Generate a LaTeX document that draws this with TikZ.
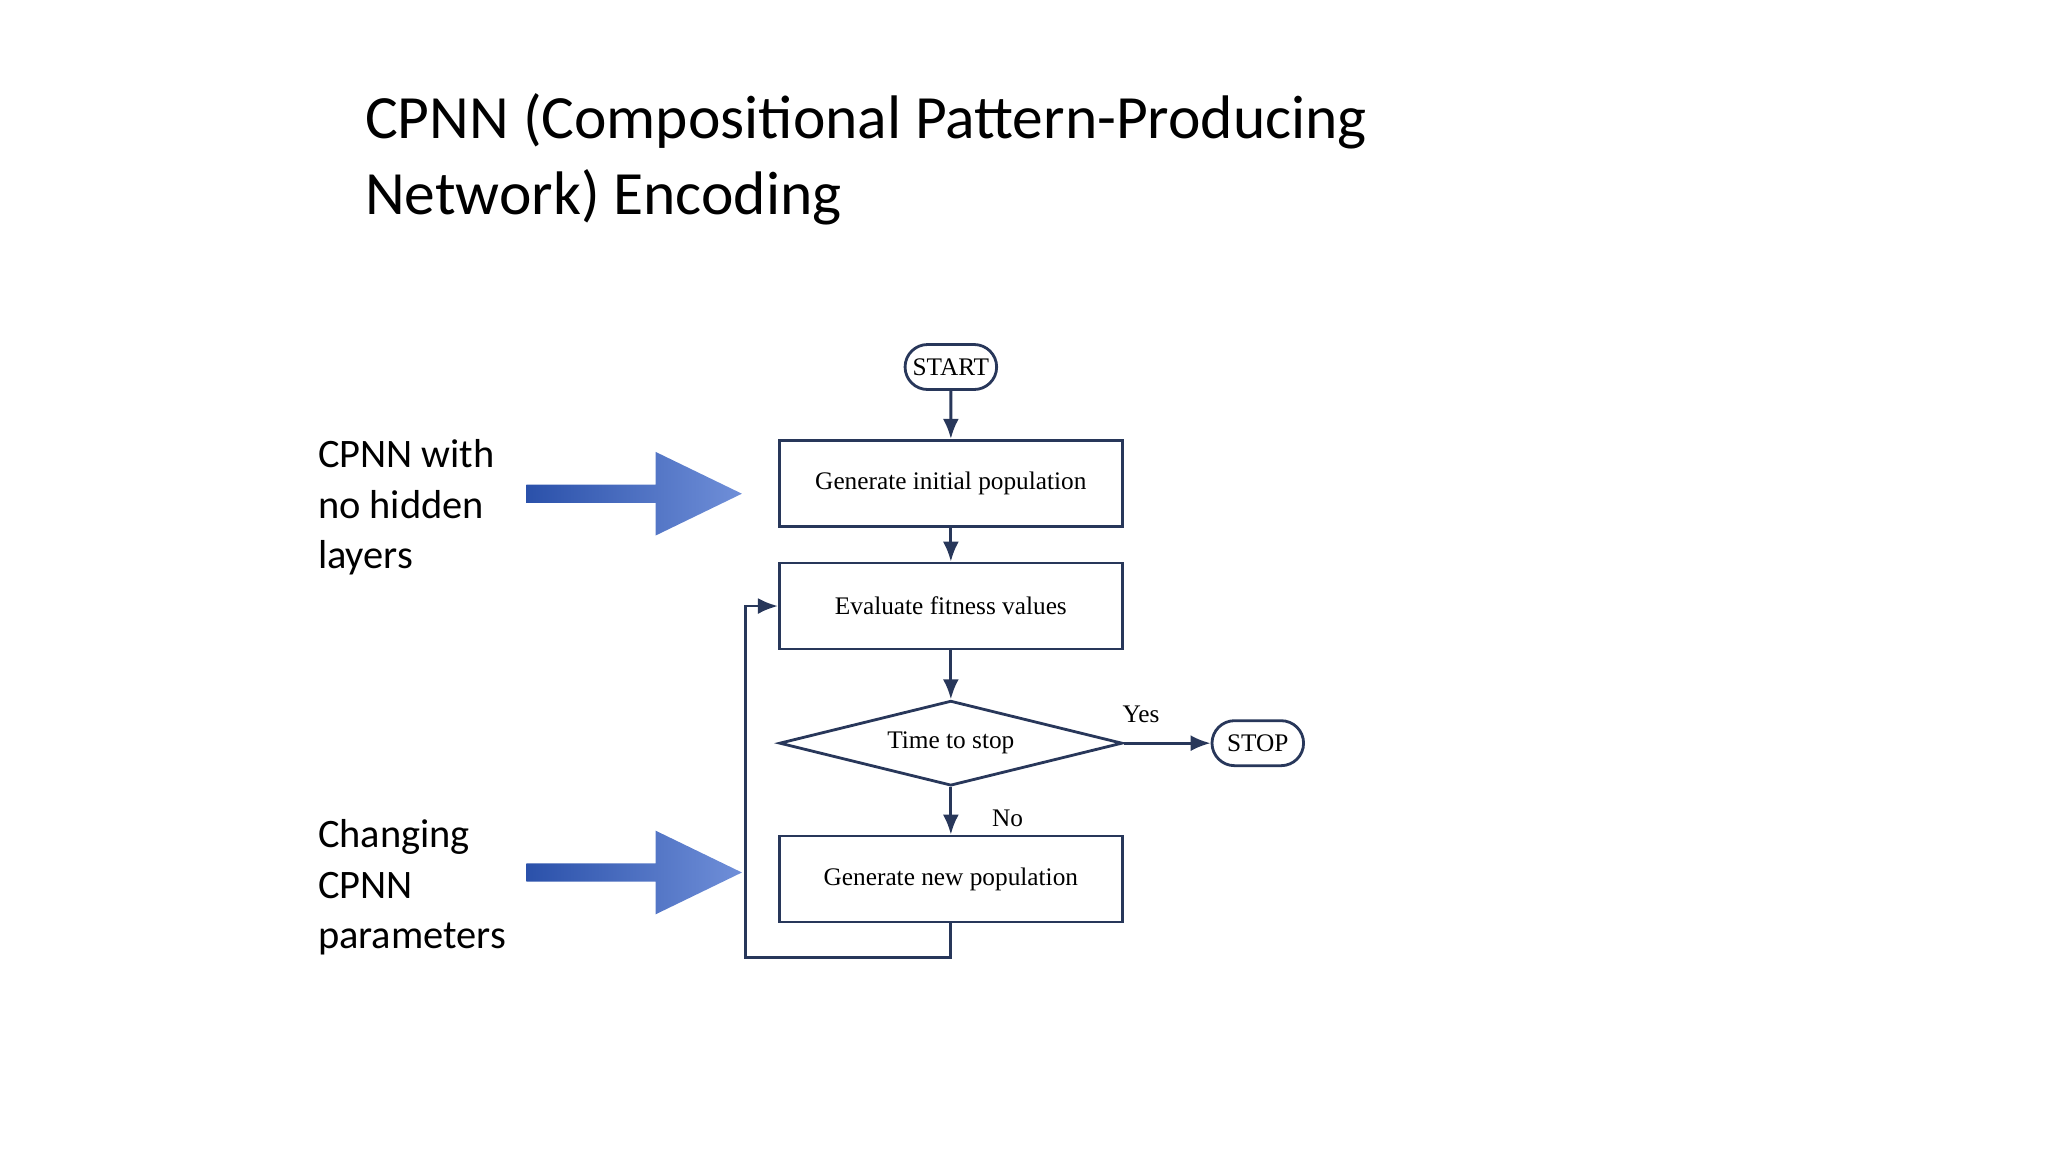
\documentclass[tikz,border=0pt]{standalone}
\usepackage{fontspec}
\setmainfont{Carlito}
\newfontfamily\flowfont{Liberation Serif}
\usetikzlibrary{shapes.geometric,shapes.misc,arrows.meta}
\definecolor{flowline}{RGB}{40,55,90}
\definecolor{arrowblue}{RGB}{50,95,200}
\tikzset{
  box/.style={draw=flowline,thick,minimum width=3.43cm,minimum height=0.86cm,font=\flowfont\fontsize{7.2}{8}\selectfont},
  term/.style={draw=flowline,thick,rounded rectangle,minimum width=1.15cm,minimum height=0.45cm,font=\flowfont\fontsize{7.2}{8}\selectfont},
  dec/.style={draw=flowline,thick,diamond,aspect=4,minimum width=3.43cm,minimum height=0.85cm,inner sep=0pt,font=\flowfont\fontsize{7.2}{8}\selectfont},
  flow/.style={draw=flowline,thick,-{Latex[length=2mm,width=1.6mm]}},
  side/.style={anchor=north west,align=left,font=\fontsize{11.5}{14.4}\selectfont},
}
\newcommand{\bigarrow}[1]{%
  \shade[left color=arrowblue!85!black,right color=arrowblue!70!white]
    (403,#1-7) -- (502,#1-7) -- (502,#1-32) -- (568,#1) -- (502,#1+32) -- (502,#1+7) -- (403,#1+7) -- cycle;}
\begin{document}
\begin{tikzpicture}[x=0.01306cm,y=-0.01306cm]
\useasboundingbox (0,0) rectangle (1568,882);
\node[anchor=north west,align=left,font=\fontsize{17.5}{21.8}\selectfont] (title) at (270,62)
  {CPNN (Compositional Pattern-Producing\\Network) Encoding};
\node[term] (start) at (728,281) {START};
\node[box] (init) at (728,370) {Generate initial population};
\node[box] (eval) at (728,464) {Evaluate fitness values};
\node[dec] (stop?) at (728,569) {Time to stop};
\node[term] (stop) at (963,569) {STOP};
\node[box] (new) at (728,673) {Generate new population};
\coordinate (c1) at (728,733);
\coordinate (c2) at (571,733);
\coordinate (c3) at (571,464);
\draw[flow] (start) -- (init);
\draw[flow] (init) -- (eval);
\draw[flow] (eval) -- (stop?);
\draw[flow] (stop?) -- node[above,pos=0.2,yshift=2pt,font=\flowfont\fontsize{7.2}{8}\selectfont] (yes) {Yes} (stop);
\draw[flow] (stop?) -- node[right,xshift=8pt,yshift=-2pt,font=\flowfont\fontsize{7.2}{8}\selectfont] (no) {No} (new);
\draw[flow] (new.south) -- (c1) -- (c2) -- (c3) -- (eval.west);
\node[side] (t1) at (234,327) {CPNN with\\no hidden\\layers};
\node[side] (t2) at (234,618) {Changing\\CPNN\\parameters};
\bigarrow{378}
\bigarrow{668}
\end{tikzpicture}
\end{document}
